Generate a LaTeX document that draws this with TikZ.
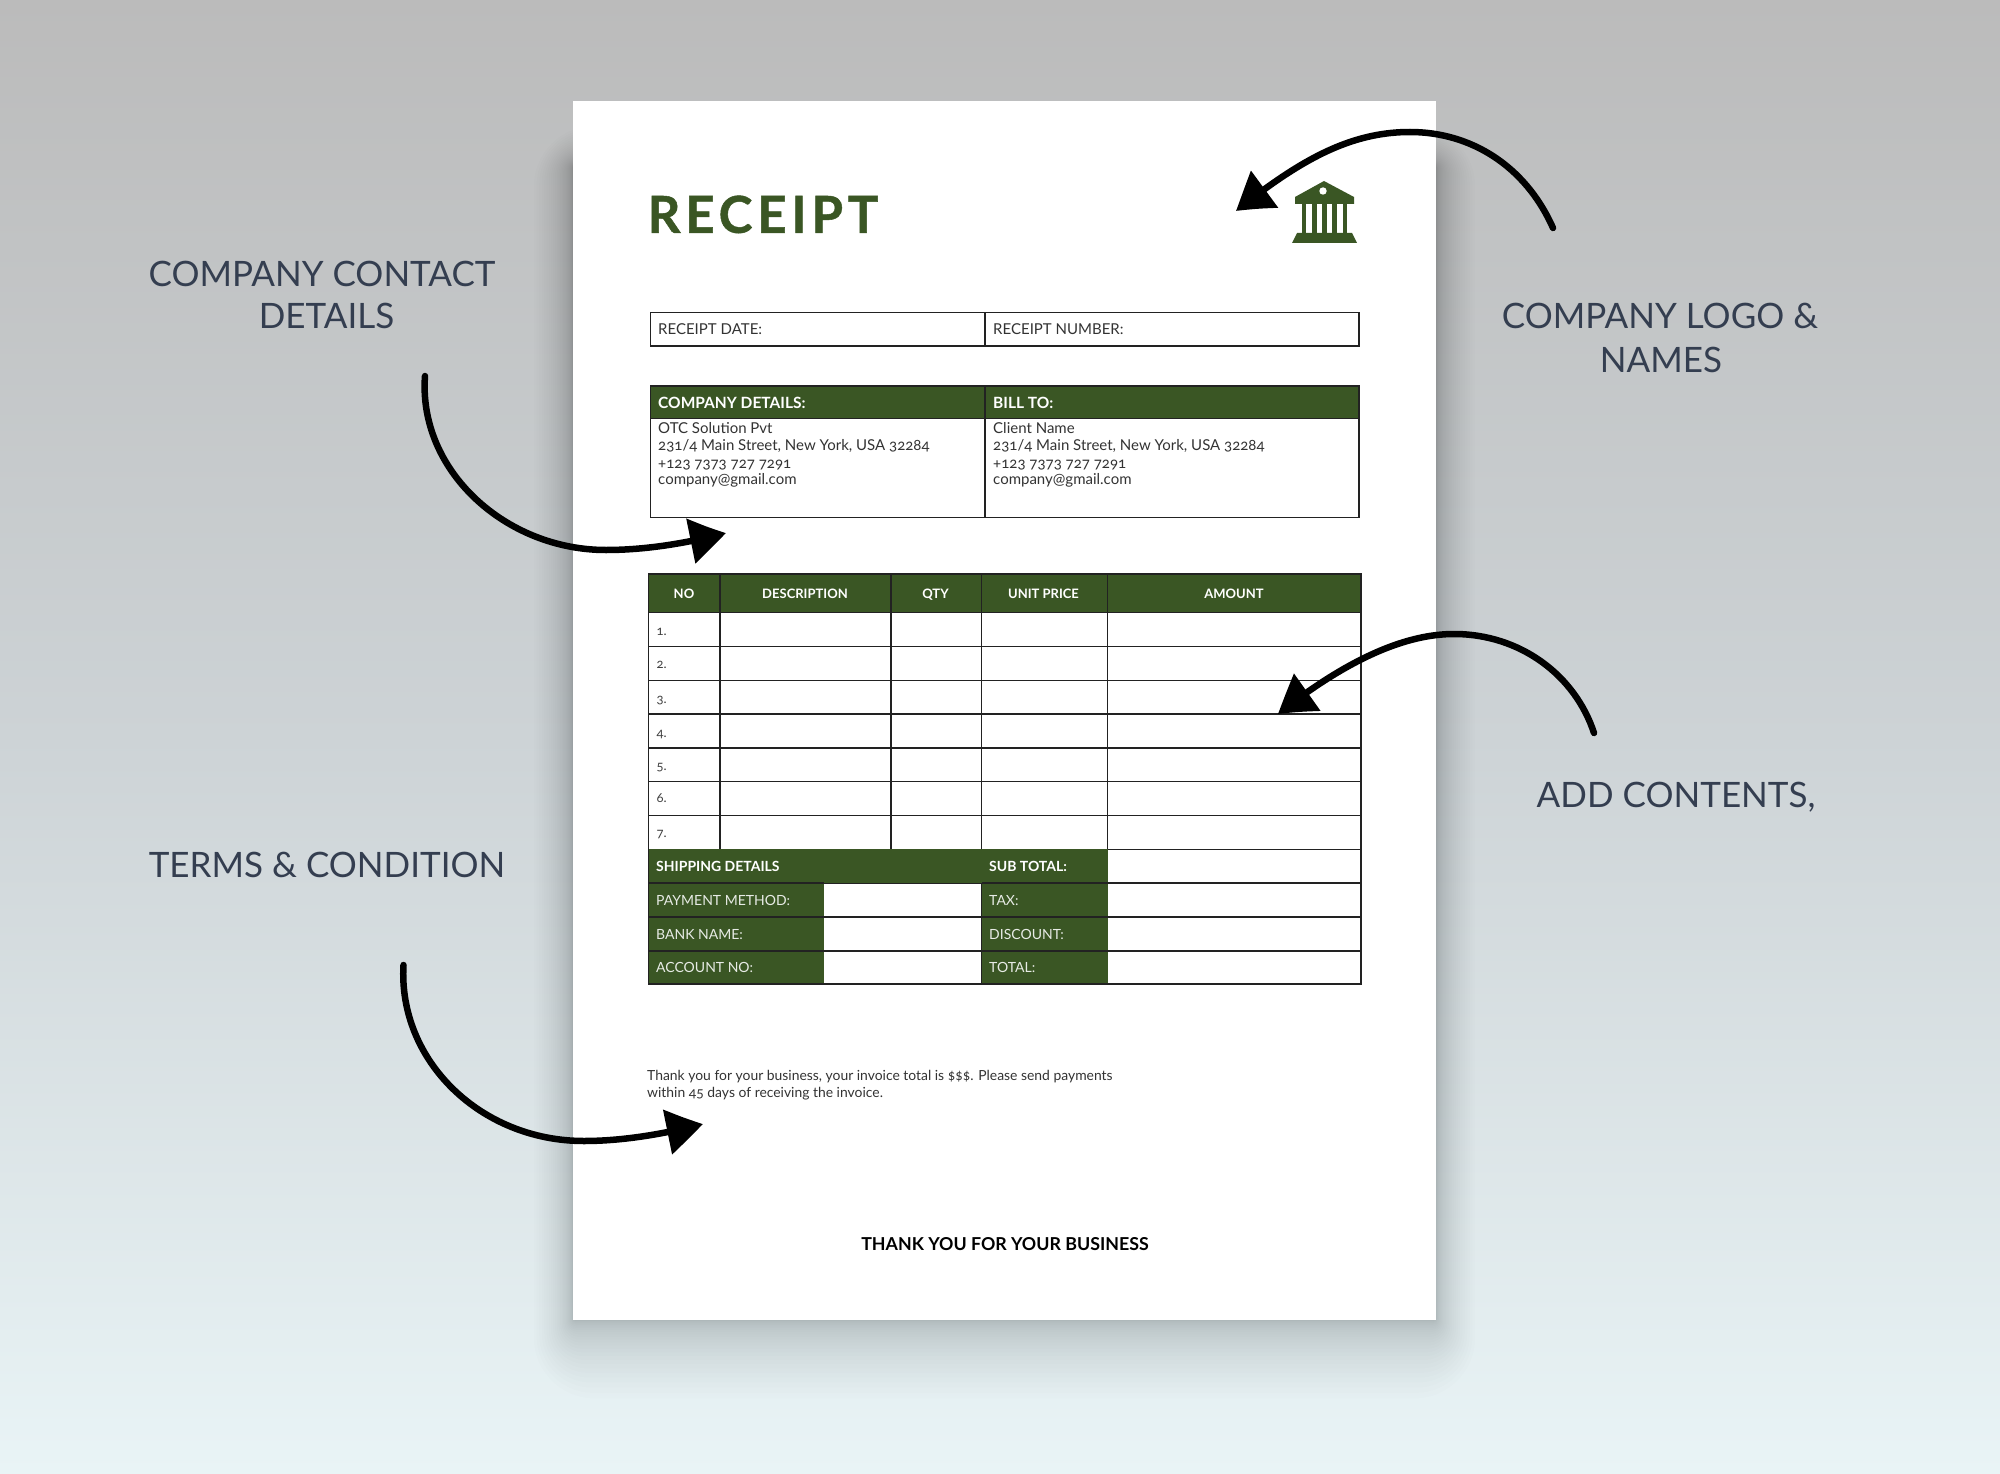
\documentclass[tikz,border=0pt]{standalone}
\usepackage{fontspec}
\setmainfont[Numbers=OldStyle]{Lato}
\usetikzlibrary{arrows.meta,bending}
\definecolor{leaf}{HTML}{3A5624}
\definecolor{slate}{HTML}{343E50}
\definecolor{rule}{HTML}{222222}
\definecolor{skytop}{HTML}{BBBBBB}
\definecolor{skymid}{HTML}{CDD3D6}
\definecolor{skylow}{HTML}{E9F4F6}
\begin{document}
\begin{tikzpicture}[x=1pt,y=-1pt,inner sep=0pt,
    lab/.style={text=slate,text height=25pt,text depth=0pt,font=\fontsize{35}{37}\selectfont},
    cellt/.style={anchor=west,text=black!80,text height=10.8pt,text depth=0pt,font=\fontsize{15}{17}\selectfont},
    headt/.style={anchor=west,text=white,text height=11.2pt,text depth=0pt,font=\fontsize{15.5}{17}\selectfont\bfseries},
    colt/.style={text=white,text height=9.4pt,text depth=0pt,font=\fontsize{13}{15}\selectfont\bfseries},
    numt/.style={anchor=west,text=black!75,text height=8pt,text depth=0pt,font=\fontsize{13}{15}\selectfont},
    sumt/.style={anchor=west,text=white!88!leaf,text height=10pt,text depth=0pt,font=\fontsize{14}{16}\selectfont},
    grid/.style={draw=rule,line width=1.4pt},
    point/.style={line width=6.5pt,line cap=round,-{Triangle[length=37pt,width=44pt,bend]}}]
\useasboundingbox (0,0) rectangle (2000,1474);
\shade[top color=skytop,bottom color=skymid] (0,0) rectangle (2000,737.5);
\shade[top color=skymid,bottom color=skylow] (0,737) rectangle (2000,1474);
% shadow of the sheet
\foreach \i [evaluate=\i as \d using \i*\i*.05] in {0,...,28}
    \fill[black,opacity=.006,rounded corners=\d*1.5+2] (573-\d,165-\d) rectangle (1436+\d,1320+\d*2);
\fill[white] (573,101) rectangle (1436,1320);
\node[anchor=west,text=leaf,text height=36.7pt,text depth=0pt,font=\fontsize{51}{55}\selectfont\bfseries] (title) at (647.5,214.5) {\addfontfeature{LetterSpace=9.5,FakeBold=1}RECEIPT};
% logo
\begin{scope}[leaf]
    \fill (1324,181) -- (1354,197) -- (1354,204) -- (1295,204) -- (1295,197) -- cycle;
    \foreach \c in {1304,1314.3,1324.5,1334.8,1345}
        \fill (\c-2.4,203) rectangle (\c+2.4,234);
    \fill (1297,233) -- (1352,233) -- (1357,243) -- (1292,243) -- cycle;
    \fill[white] (1323,191) circle (3.7);
\end{scope}
% date row
\draw[grid] (650.5,312.7) rectangle (1359,346);
\draw[grid] (985,312.7) -- (985,346);
\node[cellt] (rdate) at (658,329.5) {RECEIPT DATE:};
\node[cellt] (rnum) at (993,329.5) {RECEIPT NUMBER:};
% company and bill to
\fill[leaf] (650.5,386) rectangle (1359,418.7);
\draw[grid] (650.5,386) rectangle (1359,517.3);
\draw[grid] (650.5,418.7) -- (1359,418.7);
\draw[grid] (985,386) -- (985,517.3);
\node[headt] (comp) at (658,402.5) {COMPANY DETAILS:};
\node[headt] (bill) at (993,402.5) {BILL TO:};
\foreach \x/\who/\nm in {658/OTC Solution Pvt/c,993/Client Name/b} {
    \node[cellt] (\nm1) at (\x,428.5) {\who};
    \node[cellt] (\nm2) at (\x,445.5) {231/4 Main Street, New York, USA 32284};
    \node[cellt] (\nm3) at (\x,463) {+123 7373 727 7291};
    \node[cellt] (\nm4) at (\x,479) {company@gmail.com};
}
% items
\fill[leaf] (648.5,574) rectangle (1361,612.7);
\draw[grid] (648.5,574) rectangle (1361,984);
\foreach \y in {612.7,646.5,680.3,714.1,747.9,781.7,815.5,849.3,883,917,951}
    \draw[grid] (648.5,\y) -- (1361,\y);
\foreach \x in {720,891}
    \draw[grid] (\x,574) -- (\x,849.3);
\draw[grid] (981.5,574) -- (981.5,984);
\draw[grid] (1107.5,574) -- (1107.5,984);
\foreach \x/\txt/\nm in {684/NO/cno,805/DESCRIPTION/cdesc,935.5/QTY/cqty,1043.5/UNIT PRICE/cprice,1234/AMOUNT/camt}
    \node[colt] (\nm) at (\x,594) {\txt};
\foreach \y [count=\n] in {631,664.5,699,733,766.5,798.5,833}
    \node[numt] (row\n) at (656.5,\y) {\n.};
% shipping and totals
\fill[leaf] (648.5,849.3) rectangle (981.5,883);
\fill[leaf] (648.5,883) rectangle (824,984);
\fill[leaf] (981.5,849.3) rectangle (1107.5,984);
\foreach \y in {883,917,951} {
    \draw[rule,line width=1.2pt] (648.5,\y) -- (824,\y);
    \draw[rule,line width=1.2pt] (981.5,\y) -- (1107.5,\y);
}
\draw[grid] (648.5,984) -- (1361,984);
\node[sumt,text=white,font=\fontsize{14}{16}\selectfont\bfseries] (ship) at (656,866.5) {SHIPPING DETAILS};
\node[sumt,text=white,font=\fontsize{14}{16}\selectfont\bfseries] (sub) at (989,866.5) {SUB TOTAL:};
\node[sumt] (pay) at (656,900) {PAYMENT METHOD:};
\node[sumt] (bank) at (656,934) {BANK NAME:};
\node[sumt] (acc) at (656,967.5) {ACCOUNT NO:};
\node[sumt] (tax) at (989,900) {TAX:};
\node[sumt] (disc) at (989,934) {DISCOUNT:};
\node[sumt] (tot) at (989,967.5) {TOTAL:};
% footer
\node[cellt,font=\fontsize{13.9}{16}\selectfont] (note1) at (647,1075) {Thank you for your business, your invoice total is \$\$\$. Please send payments};
\node[cellt,font=\fontsize{13.9}{16}\selectfont] (note2) at (647,1092) {within 45 days of receiving the invoice.};
\node[text=black,text height=12.8pt,text depth=0pt,font=\fontsize{17.8}{20}\selectfont\bfseries] (thanks) at (1005,1244) {THANK YOU FOR YOUR BUSINESS};
% side labels
\node[lab] (contact1) at (322,274) {COMPANY CONTACT};
\node[lab] (contact2) at (326.5,316) {DETAILS};
\node[lab] (logo1) at (1660,316) {COMPANY LOGO \&};
\node[lab] (logo2) at (1661,360) {NAMES};
\node[lab] (add) at (1676,795) {ADD CONTENTS,};
\node[lab] (terms) at (327,865) {TERMS \& CONDITION};
% arrows
\coordinate (logofrom) at (1553,228);
\coordinate (logoto) at (1236,211);
\coordinate (contactfrom) at (425,376);
\coordinate (contactto) at (726,533);
\coordinate (addfrom) at (1594,733);
\coordinate (addto) at (1278,714);
\coordinate (termsfrom) at (403.5,965);
\coordinate (termsto) at (703,1124);
\draw[point] (logofrom) .. controls (1525,165) and (1470,132) .. (1410,132) .. controls (1350,132) and (1300,160) .. (logoto);
\draw[point] (contactfrom) .. controls (418,470) and (505,550) .. (606,550) .. controls (640,550) and (680,545) .. (contactto);
\draw[point] (addfrom) .. controls (1575,675) and (1520,634) .. (1454,634) .. controls (1400,634) and (1340,665) .. (addto);
\draw[point] (termsfrom) .. controls (398,1060) and (480,1141) .. (584,1141) .. controls (620,1141) and (660,1135) .. (termsto);
\end{tikzpicture}
\end{document}
